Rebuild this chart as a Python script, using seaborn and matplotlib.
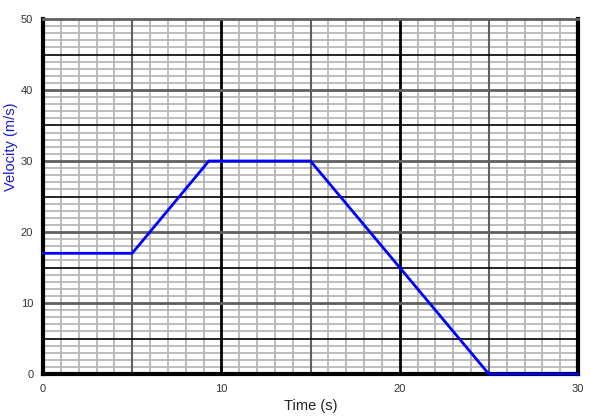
import matplotlib
matplotlib.use("Agg")
import matplotlib.pyplot as plt
import seaborn as sns
import numpy as np
import pandas as pd

# velocity-time data
time_s = [0, 5, 9.3, 15, 25, 30]
velocity = [17, 17, 30, 30, 0, 0]
x_ticks = [0, 10, 20, 30]
y_ticks = [0, 10, 20, 30, 40, 50]

df = pd.DataFrame({"Time (s)": time_s, "Velocity (m/s)": velocity})

sns.set_style("white")
plt.rcParams['font.family'] = ['Liberation Sans', 'DejaVu Sans']

fig = plt.figure(figsize=(5.9, 4.18), dpi=100)
ax = fig.add_axes([43 / 590, 44 / 418, 535 / 590, 355 / 418])

# minor grid, every 1 unit
for x in range(1, 30):
    if x % 5:
        ax.axvline(x, color='#b2b2b2', lw=1.2, zorder=1)
for y in range(1, 50):
    if y % 5:
        ax.axhline(y, color='#b2b2b2', lw=1.2, zorder=1)

# mid grid (every 5) and major grid (every 10)
for x in [5, 15, 25]:
    ax.axvline(x, color='#606060', lw=1.5, zorder=2)
for x in [10, 20]:
    ax.axvline(x, color='black', lw=2, zorder=2)
for y in [5, 15, 25, 35, 45]:
    ax.axhline(y, color='black', lw=1.2, zorder=2)
for y in [10, 20, 30, 40]:
    ax.axhline(y, color='#606060', lw=2, zorder=2)

sns.lineplot(data=df, x="Time (s)", y="Velocity (m/s)", ax=ax,
             color='#0000ff', lw=2, zorder=8, clip_on=False)

ax.set_xlim(0, 30)
ax.set_ylim(0, 50)
ax.set_xticks(x_ticks)
ax.set_yticks(y_ticks)
ax.tick_params(axis='both', labelsize=8, colors='black', length=4, width=1.5,
               direction='out', pad=3, labelcolor='#333333')
ax.set_yticks(np.arange(0, 51, 1), minor=True)
ax.tick_params(axis='y', which='minor', length=3, width=1, direction='in', color='#555555')

for side in ['left', 'bottom', 'right']:
    ax.spines[side].set_color('black')
    ax.spines[side].set_linewidth(3)
ax.spines['top'].set_color('#606060')
ax.spines['top'].set_linewidth(2)
for s in ax.spines.values():
    s.set_visible(True)
    s.set_zorder(6)

ax.set_xlabel("Time (s)", fontsize=10.5, color='#222222', labelpad=4)
ax.set_ylabel("Velocity (m/s)", fontsize=10.5, color='#1a1acc')
ax.yaxis.set_label_coords(-0.047, 0.64)

fig.savefig("out.png", dpi=100)
